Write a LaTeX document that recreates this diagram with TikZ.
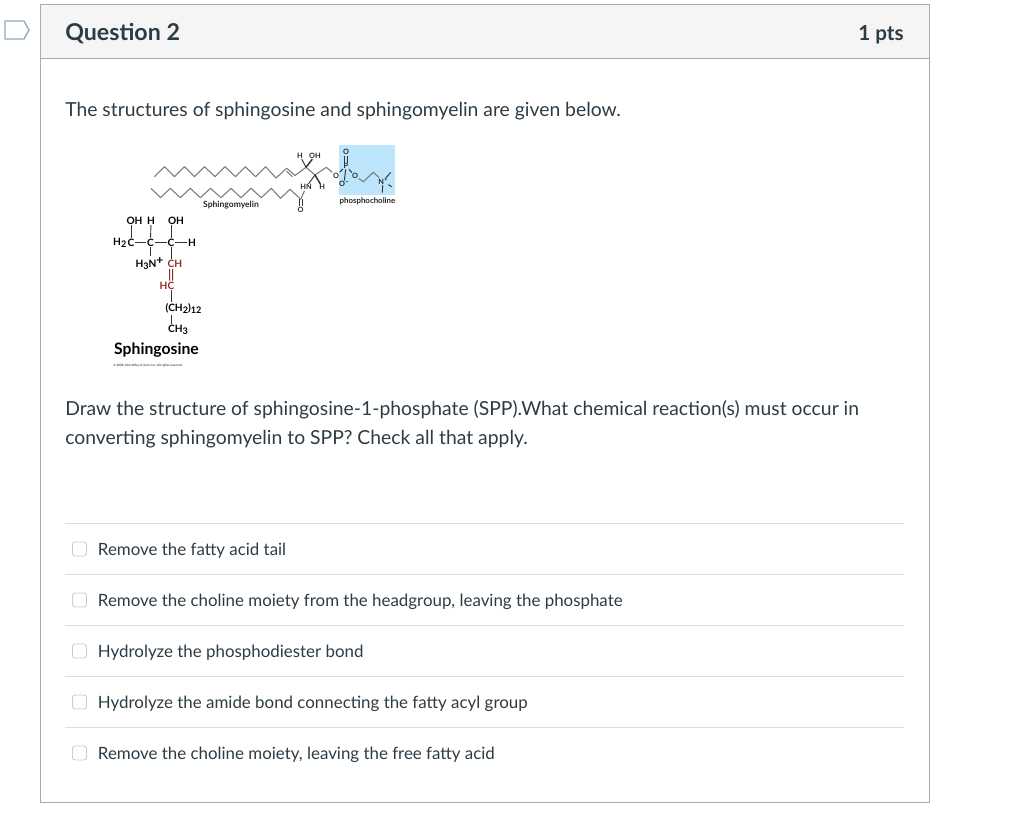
\documentclass[tikz,border=0pt]{standalone}
\usepackage{fontspec}
\setmainfont{Lato}
\usetikzlibrary{calc}
\definecolor{inktext}{HTML}{2D3B45}
\definecolor{headfill}{HTML}{F5F5F5}
\definecolor{framegray}{HTML}{ABABAB}
\definecolor{rulegray}{HTML}{DEDEDE}
\definecolor{flagblue}{HTML}{8FA9BF}
\definecolor{headblue}{HTML}{BDE5FB}
\definecolor{chemred}{HTML}{8E2A2A}
\definecolor{bondgray}{HTML}{7A7A7A}
\newcommand{\lowtext}[1]{\raisebox{-0.2em}{\fontsize{6.8}{6.8}\selectfont #1}}
\newcommand{\hightext}[1]{\raisebox{0.3em}{\fontsize{9}{9}\selectfont #1}}
\newcommand{\comma}{,}
\tikzset{
  bodytext/.style={anchor=west,inner sep=0pt,text=inktext,font=\fontsize{14.5}{14.5}\selectfont},
  choicetext/.style={anchor=west,inner sep=0pt,text=inktext,font=\fontsize{12.67}{12.67}\selectfont},
  checkbox/.style={draw=black!20,fill=white,line width=0.7pt,rounded corners=2pt,minimum size=10.5pt,inner sep=0pt},
  atom/.style={inner sep=0.6pt,text=black,font=\fontsize{7.6}{7.6}\selectfont\bfseries},
  redatom/.style={atom,text=chemred},
  tinyatom/.style={inner sep=0.4pt,text=black!85,font=\fontsize{5.5}{5.5}\selectfont\bfseries},
  bond/.style={black!80,line width=0.7pt},
  chain/.style={bondgray,line width=0.8pt,line join=round},
}
\begin{document}
\begin{tikzpicture}[x=0.75pt,y=-0.75pt]
\useasboundingbox (0,0) rectangle (1024,821);
% page frame
\fill[headfill] (40,4) rectangle (929,58);
\draw[framegray,line width=0.65pt] (40,4) rectangle (929,802);
\draw[framegray,line width=0.65pt] (40,58) -- (929,58);
\draw[flagblue,line width=1pt,fill=white] (5,21) -- (24,21) -- (29,30) -- (24,39) -- (5,39) -- cycle;
\node[bodytext,font=\fontsize{17.4}{17.4}\selectfont\bfseries] (title) at (65,33.5) {Question 2};
\node[anchor=east,inner sep=0pt,text=inktext,font=\fontsize{15.5}{15.5}\selectfont\bfseries] (points) at (904,34.5) {1 pts};
\node[bodytext] (intro) at (65,111) {The structures of sphingosine and sphingomyelin are given below.};
\node[bodytext] (ask1) at (65,409.5) {Draw the structure of sphingosine-1-phosphate (SPP).What chemical reaction(s) must occur in};
\node[bodytext] (ask2) at (65,439) {converting sphingomyelin to SPP? Check all that apply.};
% sphingomyelin
\fill[headblue] (339,145) rectangle (395,195);
\coordinate (ca) at (306,167.3);
\coordinate (cb) at (315,175);
\coordinate (cc) at (326.3,167.3);
\coordinate (cd) at (300.7,199.3);
\node[tinyatom] (po1) at (336,175.7) {O};
\node[tinyatom] (pp) at (346,166) {P};
\node[tinyatom] (po2) at (355,176) {O};
\node[tinyatom] (po3) at (344,184) {O\raisebox{0.3em}{\fontsize{5}{5}\selectfont−}};
\node[tinyatom] (po4) at (346,152.3) {O};
\node[tinyatom] (nn) at (383,181.3) {N\raisebox{0.3em}{\fontsize{4.5}{4.5}\selectfont+}};
\draw[chain] (154.3,176.7) -- (164.5,166.7) -- (174.5,176.7) -- (184.5,166.7) -- (194.5,176.7) -- (204.5,166.7) -- (215,176.7) -- (225,166.7) -- (235.5,176.7) -- (245.3,166.7) -- (255.7,176.7) -- (265.7,166.7) -- (276,178) -- (286.7,168.3) -- (295,175.5) -- (ca) -- (cb) -- (cc) -- (po1);
\draw[chain] (286.5,171.3) -- (292.5,176.7);
\draw[chain] (151,188.3) -- (160.5,197.7) -- (170.3,188.3) -- (180.3,197.7) -- (190.3,188.3) -- (200.3,197.7) -- (210.5,188.3) -- (221,197.7) -- (231,188.3) -- (241,197.7) -- (251,188.3) -- (261.3,197.7) -- (271.3,188.3) -- (280.5,198.3) -- (290,189.3) -- (cd);
\node[tinyatom] (smh) at (300,155.7) {H};
\node[tinyatom] (smoh) at (315,155.7) {OH};
\node[tinyatom] (hn) at (306,187.3) {HN};
\node[tinyatom] (nh) at (322.3,187.3) {H};
\node[tinyatom] (co) at (300.7,209.5) {O};
\draw[chain] (cd) -- (hn);
\draw[bond] (ca) -- (smh);
\draw[bond,line width=1.1pt] (ca) -- (smoh);
\draw[bond] (cb) -- (hn);
\draw[bond,line width=1.1pt] (cb) -- (nh);
\draw[bond] ($(co.north)+(-1.1pt,0)$) -- ($(cd)+(-1.1pt,0)$);
\draw[bond] ($(co.north)+(1.1pt,0)$) -- ($(cd)+(1.1pt,0)$);
\draw[bond] (po1) -- (pp);
\draw[bond] (pp) -- (po2);
\draw[bond] (pp) -- (po3);
\draw[bond] ($(pp.north)+(-1.1pt,0)$) -- ($(po4.south)+(-1.1pt,0)$);
\draw[bond] ($(pp.north)+(1.1pt,0)$) -- ($(po4.south)+(1.1pt,0)$);
\draw[chain] (po2) -- (363.3,181.7) -- (373.3,172.3) -- (nn);
\coordinate (me1) at (390.7,172.3);
\coordinate (me2) at (391.7,186.7);
\coordinate (me3) at (382.3,192.7);
\draw[bond] (nn) -- (me1);
\draw[bond] (nn) -- (me2);
\draw[bond] (nn) -- (me3);
\node[tinyatom,font=\fontsize{6.4}{6.4}\selectfont\bfseries] (smname) at (231,205.5) {Sphingomyelin};
\node[tinyatom,font=\fontsize{5.9}{5.9}\selectfont\bfseries] (phname) at (367.5,201) {phosphocholine};
% sphingosine
\node[atom] (oh1) at (134.5,220.5) {OH};
\node[atom] (h1) at (151,220.5) {H};
\node[atom] (oh2) at (176,220.5) {OH};
\node[atom] (c1) at (131,242.5) {C};
\node[atom,anchor=east,inner sep=0pt] (h2) at (c1.west) {H\lowtext{2}};
\node[atom] (c2) at (150.5,242.5) {C};
\node[atom] (c3) at (171,242.5) {C};
\node[atom] (h3) at (192,242.5) {H};
\node[atom] (h3n) at (149.5,263.5) {H\lowtext{3}N\hightext{+}};
\node[redatom] (ch) at (175,264) {CH};
\node[redatom] (hc) at (167,285.5) {HC};
\node[atom] (ch2) at (183.5,308.5) {(CH\lowtext{2})\lowtext{12}};
\node[atom] (ch3) at (178,329.5) {CH\lowtext{3}};
\node[atom,font=\fontsize{11.8}{11.8}\selectfont\bfseries] (sgname) at (156.5,350) {Sphingosine};
\node[inner sep=0pt,text=black!70,font=\fontsize{2.3}{2.3}\selectfont\bfseries] (rights) at (148,365.5) {© 2008 John Wiley \& Sons, Inc. All rights reserved.};
\draw[bond] (oh1.south -| c1) -- (c1);
\draw[bond] (h1) -- (c2);
\draw[bond] (oh2.south -| c3) -- (c3);
\draw[bond] (c1) -- (c2);
\draw[bond] (c2) -- (c3);
\draw[bond] (c3) -- (h3);
\draw[bond] (c2) -- (c2 |- h3n.north);
\draw[bond] (c3) -- (c3 |- ch.north);
\draw[chemred,line width=0.7pt] ($(ch.south)+(-5.4,0)$) -- ($(hc.north)+(2.6,0)$);
\draw[chemred,line width=0.7pt] ($(ch.south)+(-2.4,0)$) -- ($(hc.north)+(5.6,0)$);
\draw[bond] (hc.south -| c3) -- (ch2.north -| c3);
\draw[bond] (ch2.south -| c3) -- (ch3.north -| c3);
% answers
\foreach \ypos/\boxname/\choice in {
  549/boxa/Remove the fatty acid tail,
  600/boxb/Remove the choline moiety from the headgroup\comma{} leaving the phosphate,
  651/boxc/Hydrolyze the phosphodiester bond,
  702/boxd/Hydrolyze the amide bond connecting the fatty acyl group,
  753/boxe/Remove the choline moiety\comma{} leaving the free fatty acid}
{
  \draw[rulegray,line width=0.7pt] (65,\ypos-25.5) -- (904,\ypos-25.5);
  \node[checkbox] (\boxname) at (79.5,\ypos) {};
  \node[choicetext] at (97.7,\ypos+1.6) {\choice};
}
\end{tikzpicture}
\end{document}
